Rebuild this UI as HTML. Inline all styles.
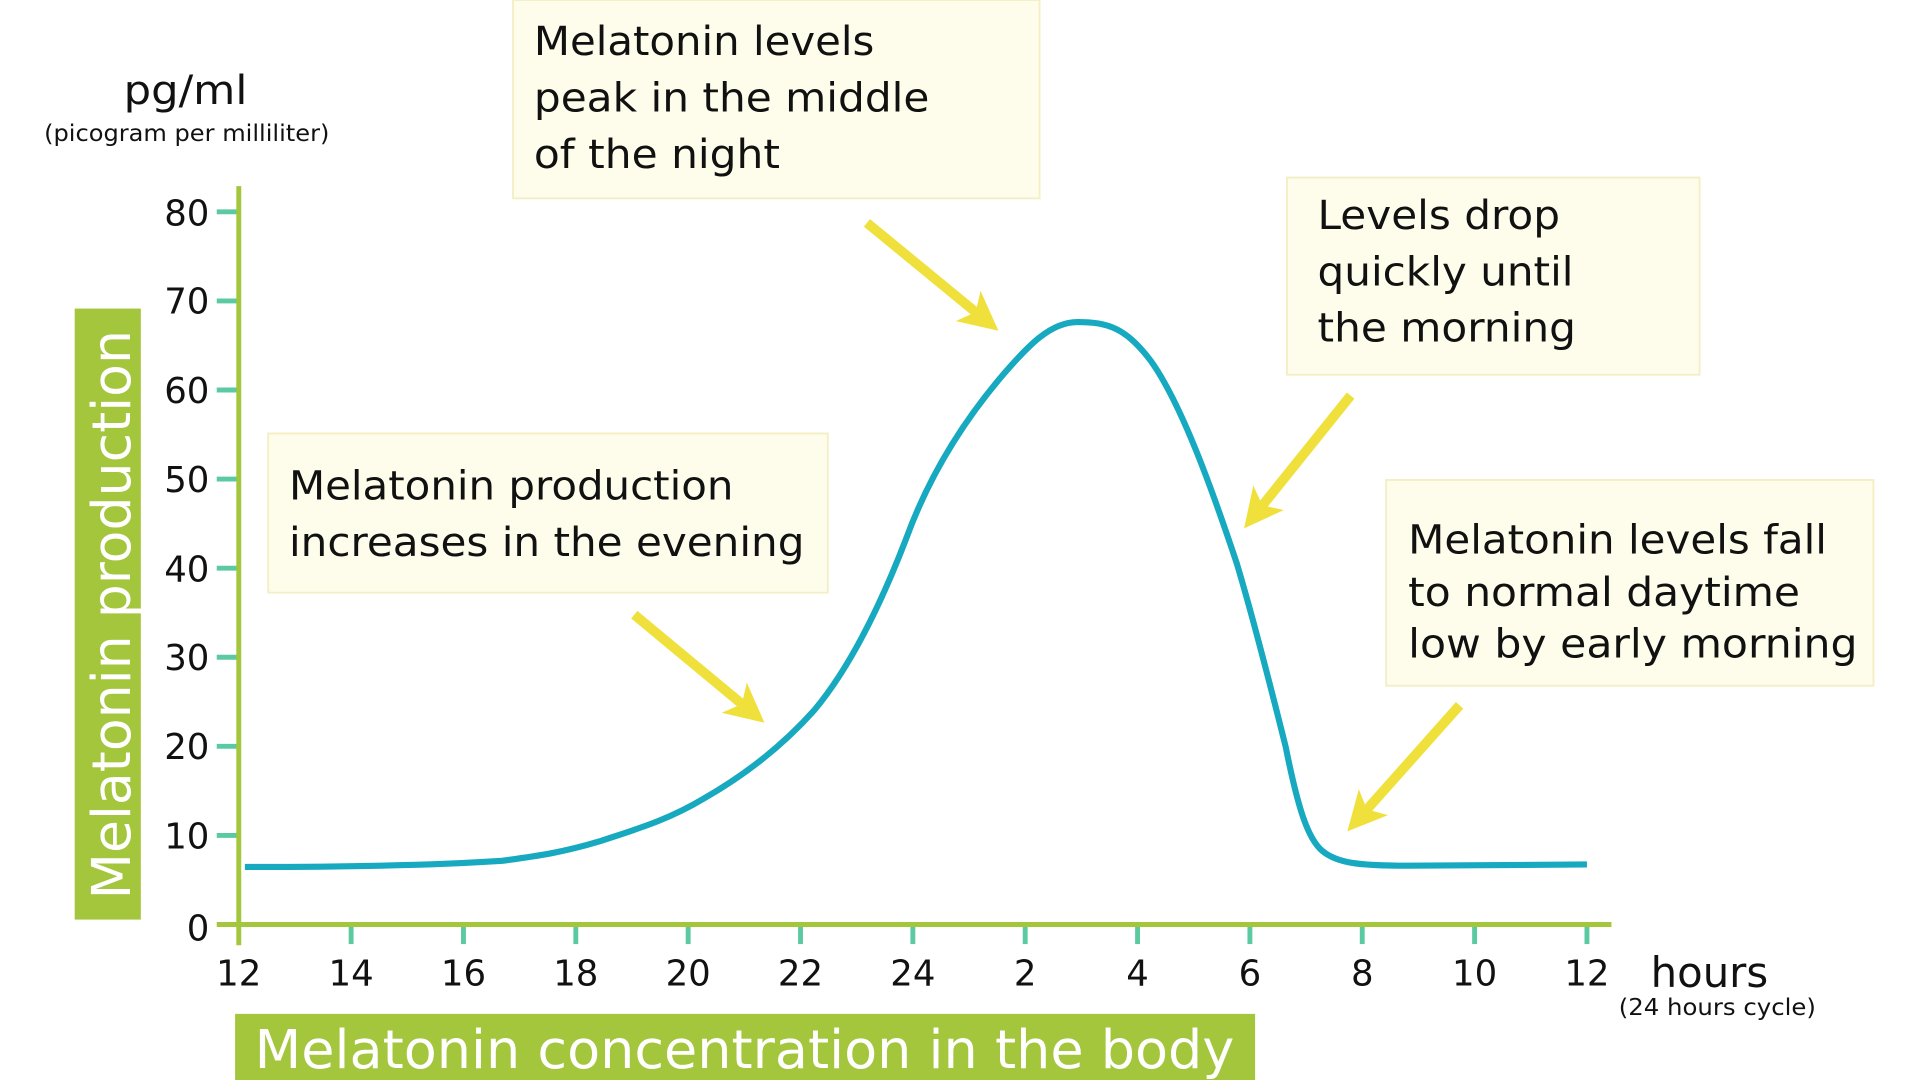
<!DOCTYPE html>
<html><head><meta charset="utf-8"><style>
html,body{margin:0;padding:0;background:#fff;width:1920px;height:1080px;overflow:hidden}
svg{display:block}
text{font-family:"DejaVu Sans","Liberation Sans",sans-serif;fill:#111}
</style></head><body>
<svg width="1920" height="1080" viewBox="0 0 1568 882" preserveAspectRatio="none" xmlns="http://www.w3.org/2000/svg">
<rect width="1568" height="882" fill="#fff"/>
<g fill="#fefdeb" stroke="#f3eec4" stroke-width="1.5">
<rect x="419" y="0" width="430" height="162"/>
<rect x="1051" y="145" width="337" height="161"/>
<rect x="219" y="354" width="457" height="130"/>
<rect x="1132" y="392" width="398" height="168"/>
</g>
<g font-size="33" lengthAdjust="spacingAndGlyphs">
<text x="436" y="45" textLength="278" lengthAdjust="spacingAndGlyphs">Melatonin levels</text>
<text x="436" y="91" textLength="323" lengthAdjust="spacingAndGlyphs">peak in the middle</text>
<text x="436" y="137" textLength="201" lengthAdjust="spacingAndGlyphs">of the night</text>
<text x="1076" y="187" textLength="198" lengthAdjust="spacingAndGlyphs">Levels drop</text>
<text x="1076" y="233" textLength="209" lengthAdjust="spacingAndGlyphs">quickly until</text>
<text x="1076" y="279" textLength="211" lengthAdjust="spacingAndGlyphs">the morning</text>
<text x="236" y="408" textLength="363" lengthAdjust="spacingAndGlyphs">Melatonin production</text>
<text x="236" y="454" textLength="421" lengthAdjust="spacingAndGlyphs">increases in the evening</text>
<text x="1150" y="452" textLength="342" lengthAdjust="spacingAndGlyphs">Melatonin levels fall</text>
<text x="1150" y="495" textLength="320" lengthAdjust="spacingAndGlyphs">to normal daytime</text>
<text x="1150" y="537" textLength="367" lengthAdjust="spacingAndGlyphs">low by early morning</text>
</g>
<defs><marker id="ah" markerWidth="4" markerHeight="4" refX="2" refY="2" orient="auto" markerUnits="strokeWidth"><path d="M0,0 L4,2 L0,4 L1,2 z" fill="#f0e03c"/></marker></defs>
<g stroke="#f0e03c" stroke-width="8" fill="none">
<line x1="708" y1="182" x2="803" y2="260" marker-end="url(#ah)"/>
<line x1="1103" y1="323" x2="1026" y2="419" marker-end="url(#ah)"/>
<line x1="518" y1="502" x2="612" y2="580" marker-end="url(#ah)"/>
<line x1="1192" y1="576" x2="1111" y2="667" marker-end="url(#ah)"/>
</g>
<g stroke="#5ccaa0" stroke-width="4">
<line x1="177" y1="173" x2="195" y2="173"/><line x1="177" y1="245.75" x2="195" y2="245.75"/>
<line x1="177" y1="318.5" x2="195" y2="318.5"/><line x1="177" y1="391.25" x2="195" y2="391.25"/>
<line x1="177" y1="464" x2="195" y2="464"/><line x1="177" y1="536.75" x2="195" y2="536.75"/>
<line x1="177" y1="609.5" x2="195" y2="609.5"/><line x1="177" y1="682.25" x2="195" y2="682.25"/>
<line x1="286.75" y1="755" x2="286.75" y2="771"/><line x1="378.5" y1="755" x2="378.5" y2="771"/>
<line x1="470.25" y1="755" x2="470.25" y2="771"/><line x1="562" y1="755" x2="562" y2="771"/>
<line x1="653.75" y1="755" x2="653.75" y2="771"/><line x1="745.5" y1="755" x2="745.5" y2="771"/>
<line x1="837.25" y1="755" x2="837.25" y2="771"/><line x1="929" y1="755" x2="929" y2="771"/>
<line x1="1020.75" y1="755" x2="1020.75" y2="771"/><line x1="1112.5" y1="755" x2="1112.5" y2="771"/>
<line x1="1204.25" y1="755" x2="1204.25" y2="771"/><line x1="1296" y1="755" x2="1296" y2="771"/>
</g>
<g stroke="#a3c63c" stroke-width="4">
<line x1="195" y1="152" x2="195" y2="772"/>
<line x1="177" y1="755" x2="1316" y2="755"/>
</g>
<g font-size="29" text-anchor="end">
<text x="171" y="184">80</text><text x="171" y="256">70</text><text x="171" y="329">60</text>
<text x="171" y="402">50</text><text x="171" y="475">40</text><text x="171" y="547">30</text>
<text x="171" y="620">20</text><text x="171" y="693">10</text><text x="171" y="768">0</text>
</g>
<g font-size="29" text-anchor="middle">
<text x="195" y="805">12</text><text x="286.75" y="805">14</text><text x="378.5" y="805">16</text>
<text x="470.25" y="805">18</text><text x="562" y="805">20</text><text x="653.75" y="805">22</text>
<text x="745.5" y="805">24</text><text x="837.25" y="805">2</text><text x="929" y="805">4</text>
<text x="1020.75" y="805">6</text><text x="1112.5" y="805">8</text><text x="1204.25" y="805">10</text>
<text x="1296" y="805">12</text>
</g>
<text x="1348" y="806" font-size="34" textLength="96" lengthAdjust="spacingAndGlyphs">hours</text>
<text x="1322" y="829" font-size="19" textLength="161" lengthAdjust="spacingAndGlyphs">(24 hours cycle)</text>
<text x="101" y="85" font-size="33" textLength="101" lengthAdjust="spacingAndGlyphs">pg/ml</text>
<text x="36" y="115" font-size="19" textLength="233" lengthAdjust="spacingAndGlyphs">(picogram per milliliter)</text>
<path d="M200,708 C260,708 350,707 410,703 C440,699 460,696 490,687 C520,677 545,670 575,652 C610,632 640,608 665,580 C690,550 715,505 740,440 C760,385 790,340 820,305 C840,282 858,263 880,263 C905,263 920,268 940,295 C965,330 990,400 1010,460 C1025,510 1040,570 1050,610 C1060,660 1068,685 1080,695 C1092,705 1110,707 1150,707 L1296,706" fill="none" stroke="#16a9c0" stroke-width="5"/>
<rect x="61" y="252" width="54" height="499" fill="#a3c63c"/>
<text transform="translate(106,502) rotate(-90)" font-size="44" style="fill:#fff" text-anchor="middle" textLength="465" lengthAdjust="spacingAndGlyphs">Melatonin production</text>
<rect x="192" y="828" width="833" height="54" fill="#a3c63c"/>
<text x="608" y="872" font-size="44" style="fill:#fff" text-anchor="middle" textLength="800" lengthAdjust="spacingAndGlyphs">Melatonin concentration in the body</text>
</svg>
</body></html>
